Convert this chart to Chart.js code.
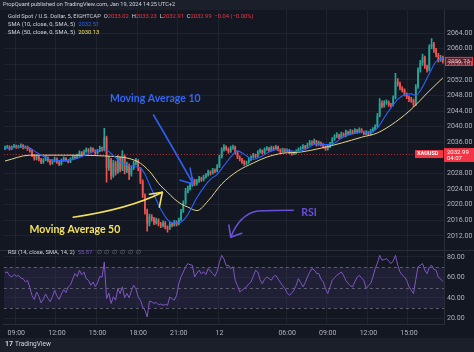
<!DOCTYPE html>
<html>
<head>
<meta charset="utf-8">
<script src="https://cdn.jsdelivr.net/npm/chart.js@4.4.1/dist/chart.umd.min.js"></script>
<style>
  html, body { margin: 0; padding: 0; background: #131722; }
  #wrap { width: 474px; height: 352px; position: relative; }
</style>
</head>
<body>
<div id="wrap"><canvas id="chart"></canvas></div>
<script>
// XAUUSD, one bar per 10 minutes
var firstOpen = 2034.4;
var closes = [
  2034.6,2034.9,2034.3,2034.8,2035.1,2034.7,2034.9,2035.2,2034.6,2034.8,
  2034.2,2033.9,2032.6,2031.8,2032.4,2031.6,2030.9,2031.5,2032.1,2031.3,
  2030.6,2031.2,2031.8,2030.9,2030.4,2031.3,2031.9,2031.4,2031.0,2031.7,
  2032.3,2032.0,2032.6,2033.4,2033.0,2033.6,2034.2,2033.7,2034.4,2033.9,
  2033.2,2033.8,2034.5,2034.0,2037.2,2029.5,2031.6,2027.4,2030.8,2028.3,
  2031.9,2029.0,2032.5,2028.6,2030.2,2027.8,2029.4,2030.6,2031.3,2029.2,
  2026.0,2022.4,2018.5,2015.2,2017.0,2016.4,2015.3,2016.1,2015.0,2014.6,
  2015.4,2014.2,2013.9,2015.1,2014.8,2015.6,2015.0,2016.2,2018.3,2020.4,
  2023.5,2024.1,2025.0,2026.3,2025.4,2026.0,2026.8,2026.4,2027.1,2027.6,
  2028.4,2028.0,2028.9,2028.6,2029.8,2032.2,2034.0,2034.9,2034.3,2033.6,
  2034.6,2034.8,2033.4,2032.2,2031.6,2031.0,2030.5,2030.8,2031.5,2032.1,
  2032.8,2032.4,2033.5,2033.9,2033.3,2034.2,2034.5,2033.9,2034.6,2034.3,
  2034.8,2034.1,2033.6,2034.2,2033.8,2034.0,2033.4,2033.0,2033.2,2033.8,
  2034.3,2034.5,2035.0,2034.6,2035.4,2035.9,2035.8,2036.3,2035.4,2035.9,
  2035.5,2034.9,2034.3,2034.8,2035.6,2036.7,2037.5,2037.8,2037.2,2038.1,
  2037.6,2038.6,2038.1,2038.8,2038.4,2039.0,2038.6,2039.3,2038.7,2038.2,
  2038.6,2038.0,2038.9,2039.4,2040.0,2042.8,2046.0,2045.3,2046.1,2046.3,
  2045.6,2045.5,2047.4,2051.6,2051.0,2049.9,2049.4,2048.3,2047.6,2047.0,
  2046.8,2045.6,2050.2,2054.5,2056.3,2057.8,2055.4,2054.5,2060.4,2061.2,
  2059.6,2058.4,2057.0,2057.8,2056.7
];
var highs = [
  2035.0,2035.2,2035.1,2035.0,2035.5,2035.3,2035.2,2035.6,2035.4,2035.1,
  2035.0,2034.5,2034.1,2032.9,2032.8,2032.6,2031.9,2031.8,2032.5,2032.3,
  2031.5,2031.6,2032.2,2032.0,2031.1,2031.7,2032.3,2032.1,2031.6,2032.0,
  2032.7,2032.6,2033.0,2033.8,2033.6,2034.0,2034.6,2034.4,2034.8,2034.6,
  2034.1,2034.2,2035.0,2034.8,2039.6,2037.6,2032.4,2031.9,2031.4,2031.2,
  2032.6,2032.2,2033.9,2032.8,2030.9,2030.5,2029.9,2031.2,2031.9,2031.6,
  2029.5,2026.4,2022.8,2018.9,2017.6,2017.5,2016.8,2016.6,2016.4,2015.5,
  2015.9,2015.7,2014.6,2015.5,2015.4,2016.0,2015.9,2016.6,2018.8,2021.0,
  2024.2,2024.8,2025.6,2027.0,2026.6,2026.5,2027.3,2027.1,2027.6,2028.0,
  2028.9,2028.7,2029.3,2029.2,2030.3,2032.7,2034.6,2035.4,2035.1,2034.6,
  2035.0,2035.3,2035.0,2033.7,2032.5,2031.9,2031.3,2031.2,2031.9,2032.5,
  2033.2,2033.0,2033.9,2034.3,2034.1,2034.6,2034.9,2034.7,2035.0,2034.9,
  2035.2,2035.0,2034.3,2034.5,2034.4,2034.3,2034.2,2033.6,2033.5,2034.1,
  2034.6,2034.9,2035.4,2035.2,2035.8,2036.5,2036.4,2036.8,2036.5,2036.3,
  2036.1,2035.7,2035.1,2035.2,2036.0,2037.2,2038.0,2038.5,2038.1,2038.6,
  2038.4,2039.1,2038.9,2039.3,2039.1,2039.5,2039.3,2039.7,2039.5,2038.9,
  2039.0,2038.8,2039.3,2039.8,2040.5,2043.4,2047.2,2046.6,2046.7,2046.9,
  2046.6,2046.0,2047.9,2053.7,2052.3,2051.4,2050.3,2049.7,2048.7,2047.9,
  2047.5,2047.1,2050.8,2055.1,2057.0,2058.6,2058.1,2055.8,2061.0,2062.6,
  2061.6,2060.1,2058.8,2058.3,2058.1
];
var lows = [
  2034.1,2034.4,2034.0,2034.1,2034.6,2034.4,2034.5,2034.7,2034.3,2034.4,
  2033.9,2033.5,2032.3,2031.4,2031.5,2031.2,2030.5,2030.6,2031.3,2031.0,
  2030.2,2030.4,2031.0,2030.6,2030.0,2030.2,2031.1,2031.1,2030.7,2030.8,
  2031.5,2031.7,2031.8,2032.4,2032.7,2032.8,2033.4,2033.4,2033.5,2033.6,
  2032.9,2033.0,2033.6,2033.7,2033.8,2025.8,2028.8,2026.5,2027.0,2027.6,
  2028.0,2028.4,2028.7,2027.9,2028.2,2026.4,2027.3,2029.0,2030.2,2028.7,
  2025.4,2021.8,2017.6,2013.2,2014.6,2015.8,2014.9,2015.0,2014.6,2014.1,
  2014.3,2013.8,2013.0,2013.6,2014.3,2014.5,2014.6,2014.8,2015.9,2018.0,
  2020.1,2023.0,2023.7,2024.7,2024.9,2025.0,2025.7,2026.0,2026.1,2026.8,
  2027.3,2027.6,2027.8,2028.2,2028.4,2029.5,2031.9,2033.7,2033.9,2033.2,
  2033.4,2034.2,2033.0,2031.8,2031.2,2030.6,2030.1,2030.2,2030.6,2031.3,
  2031.9,2032.0,2032.2,2033.2,2033.0,2033.1,2033.9,2033.6,2033.7,2034.0,
  2034.1,2033.8,2033.3,2033.4,2033.5,2033.6,2033.1,2032.7,2032.8,2033.0,
  2033.6,2034.0,2034.3,2034.3,2034.4,2035.2,2035.4,2035.6,2035.0,2035.2,
  2035.1,2034.5,2033.9,2034.0,2034.6,2035.4,2036.5,2037.2,2036.9,2037.0,
  2037.3,2037.4,2037.8,2037.9,2038.1,2038.2,2038.3,2038.4,2038.4,2037.9,
  2037.9,2037.7,2037.8,2038.6,2039.2,2039.8,2042.5,2044.8,2045.0,2045.7,
  2045.2,2045.0,2045.3,2047.1,2050.4,2049.4,2048.9,2047.9,2047.2,2046.4,
  2046.2,2045.1,2045.4,2049.8,2054.0,2055.7,2054.9,2054.0,2054.3,2060.0,
  2059.0,2057.9,2056.5,2056.7,2056.3
];
var rsi = [
  64.5,65.4,61.8,60.5,63.0,61.2,62.1,59.4,58.9,55.7,
  57.2,50.1,42.3,38.4,45.8,41.6,35.2,38.9,43.8,39.6,
  36.4,41.2,47.5,42.1,38.6,43.9,48.2,45.1,50.8,52.6,
  58.4,63.8,61.0,67.0,62.6,65.2,58.6,57.3,52.4,55.6,
  51.2,54.8,61.0,60.3,75.1,39.4,44.7,34.6,41.2,37.8,
  49.2,44.3,50.8,40.4,44.3,40.2,47.0,52.4,48.8,41.0,
  37.8,31.2,28.1,21.5,36.9,36.2,34.8,35.6,33.4,34.1,
  32.9,33.6,32.9,41.0,39.2,37.8,42.5,54.0,60.7,65.4,
  70.2,73.5,72.4,72.0,60.5,64.2,67.0,63.6,65.4,62.8,
  68.6,66.3,63.8,61.2,66.0,74.8,81.6,78.0,71.5,72.0,
  68.6,70.4,57.3,52.0,46.0,47.5,49.2,50.8,53.6,55.7,
  61.0,67.0,65.4,58.0,54.0,58.3,60.5,59.0,57.3,61.0,
  62.1,58.4,55.2,52.0,49.2,45.0,42.7,44.5,47.5,52.3,
  58.9,55.0,50.8,54.8,60.5,65.2,68.6,67.4,64.0,63.8,
  58.4,55.7,49.0,44.3,50.6,57.3,59.8,62.1,63.6,65.4,
  62.0,57.3,54.2,52.0,50.8,55.8,60.2,62.1,59.6,57.3,
  49.2,52.0,54.0,60.4,68.6,74.0,81.6,76.8,77.5,78.4,
  76.0,73.5,76.0,81.6,72.0,65.4,62.4,60.5,57.0,50.8,
  47.5,44.3,58.0,70.3,72.0,73.5,67.0,63.8,70.0,71.9,
  68.0,67.0,60.0,58.6,55.9
];
// moving averages, read at sample bars
var ma10Idx = [0,5,10,14,20,26,32,38,44,48,52,57,60,62,64,66,68,70,72,74,77,79,81,83,85,88,91,94,97,100,
  103,106,110,114,118,122,126,130,134,138,142,146,150,154,158,162,165,168,171,174,177,180,182,185,188,191,194];
var ma10Val = [2034.4,2034.7,2034.7,2033.4,2031.6,2031.3,2031.9,2033.3,2034.3,2032.6,2030.6,2029.8,2029.4,2027.8,2025.2,
  2022.6,2020.0,2017.9,2016.2,2015.4,2015.3,2016.0,2017.5,2019.6,2021.8,2024.4,2026.5,2027.8,2030.0,2032.2,
  2033.8,2032.9,2031.6,2032.5,2033.8,2034.2,2033.9,2033.6,2034.5,2035.6,2035.4,2035.8,2037.5,2038.2,2038.7,
  2038.6,2039.6,2042.3,2044.8,2047.0,2048.2,2048.4,2048.0,2050.2,2053.6,2056.7,2057.6];
var ma50Idx = [0,11,26,44,57,61,65,68,72,75,78,81,85,90,96,103,110,116,123,131,140,149,158,165,173,181,187,194];
var ma50Val = [2031.2,2032.7,2032.7,2032.5,2031.5,2030.2,2027.9,2025.5,2023.2,2021.5,2020.2,2019.4,2018.5,2021.0,
  2025.3,2028.6,2030.7,2032.2,2033.2,2033.5,2034.5,2035.8,2037.3,2038.4,2041.2,2045.0,2048.6,2052.5];

var tickIdx = [5,23,41,59,77,95,125,143,161,179];
var tickText = ['09:00','12:00','15:00','18:00','21:00','12','06:00','09:00','12:00','15:00'];
var priceTicks = [2012,2016,2020,2024,2028,2036,2040,2044,2048,2052,2056,2060,2064];
var rsiTicks = [20,40,60,80];
var lastPrice = 2032.99, markPrice = 2056.73;

var n = closes.length;
var labels = closes.map(function (c, i) { return String(i); });
var opens = closes.map(function (c, i) { return i === 0 ? firstOpen : closes[i - 1]; });
var candleColors = closes.map(function (c, i) { return c >= opens[i] ? '#26a69a' : '#ef5350'; });
var bodies = closes.map(function (c, i) { return [opens[i], c]; });
var wicks = closes.map(function (c, i) { return [lows[i], highs[i]]; });
function sparse(idx, val) {
  var a = new Array(n).fill(null);
  idx.forEach(function (k, j) { a[k] = val[j]; });
  return a;
}

var tickFont = { family: 'Roboto, sans-serif', size: 7 };
var gridColor = 'rgba(54,58,69,0.35)';

function textRun(c, parts, x, y) {
  parts.forEach(function (p) {
    c.fillStyle = p[1];
    c.fillText(p[0], x, y);
    x += c.measureText(p[0]).width;
  });
  return x;
}

var decor = {
  id: 'decor',
  beforeDraw: function (chart) {
    var c = chart.ctx, ca = chart.chartArea, r = chart.scales.rsi;
    c.save();
    c.fillStyle = '#131722';
    c.fillRect(0, 0, chart.width, chart.height);
    c.fillStyle = '#1b1f2a';
    c.fillRect(0, 0, chart.width, 10);
    c.fillRect(0, 338, chart.width, 14);
    var y70 = r.getPixelForValue(70), y30 = r.getPixelForValue(30);
    c.fillStyle = 'rgba(126,87,194,0.12)';
    c.fillRect(ca.left, y70, ca.right - ca.left, y30 - y70);
    c.restore();
  },
  beforeDatasetsDraw: function (chart) {
    var c = chart.ctx, ca = chart.chartArea, r = chart.scales.rsi, y = chart.scales.y;
    c.save();
    c.strokeStyle = 'rgba(120,123,134,0.7)';
    c.lineWidth = 1;
    c.setLineDash([3, 3]);
    [70, 50, 30].forEach(function (v) {
      var py = Math.round(r.getPixelForValue(v)) + 0.5;
      c.beginPath(); c.moveTo(ca.left, py); c.lineTo(ca.right, py); c.stroke();
    });
    c.strokeStyle = 'rgba(242,54,69,0.75)';
    c.setLineDash([1, 2]);
    var ly = Math.round(y.getPixelForValue(lastPrice)) + 0.5;
    c.beginPath(); c.moveTo(ca.left, ly); c.lineTo(ca.right, ly); c.stroke();
    c.restore();
  },
  afterDatasetsDraw: function (chart) {
    var c = chart.ctx, xs = chart.scales.x, ys = chart.scales.y;
    function P(i, p) { return [xs.getPixelForValue(i), ys.getPixelForValue(p)]; }
    function arrow(color, pts, head) {
      c.strokeStyle = color; c.lineWidth = 1.6; c.lineCap = 'round'; c.lineJoin = 'round';
      c.beginPath();
      var s = P(pts[0][0], pts[0][1]);
      c.moveTo(s[0], s[1]);
      for (var k = 1; k < pts.length; k += 2) {
        var q = P(pts[k][0], pts[k][1]), e = P(pts[k + 1][0], pts[k + 1][1]);
        c.quadraticCurveTo(q[0], q[1], e[0], e[1]);
      }
      c.stroke();
      var t = P(head[0][0], head[0][1]);
      c.beginPath();
      var h1 = P(head[1][0], head[1][1]), h2 = P(head[2][0], head[2][1]);
      c.moveTo(h1[0], h1[1]); c.lineTo(t[0], t[1]); c.lineTo(h2[0], h2[1]);
      c.stroke();
    }
    c.save();
    c.font = 'bold 10.5px Lato, sans-serif';
    c.textBaseline = 'middle';
    var t1 = P(46.5, 2047.1); c.fillStyle = '#3466f2'; c.fillText('Moving Average 10', t1[0], t1[1]);
    var t2 = P(10.9, 2013.7); c.fillStyle = '#f4e25c'; c.fillText('Moving Average 50', t2[0], t2[1]);
    var t3 = P(131.2, 2018.1); c.fillStyle = '#6750d6'; c.fillText('RSI', t3[0], t3[1]);
    arrow('#2f5ff0', [[65.8, 2043.0], [73.5, 2035.5], [83.4, 2025.3]],
      [[83.4, 2025.3], [77.6, 2026.3], [82.0, 2029.4]]);
    arrow('#f4e25c', [[30.2, 2016.8], [55, 2018.9], [69.7, 2023.2]],
      [[69.7, 2023.2], [64.0, 2022.7], [68.4, 2019.4]]);
    arrow('#6750d6', [[127.7, 2018.6], [118, 2018.6], [112, 2018.4], [104, 2017.6], [100, 2011.7]],
      [[100, 2011.7], [99.2, 2014.8], [104.9, 2012.7]]);
    c.restore();
  },
  afterDraw: function (chart) {
    var c = chart.ctx, ca = chart.chartArea, ys = chart.scales.y, r = chart.scales.rsi;
    c.save();
    c.strokeStyle = '#2a2e39'; c.lineWidth = 1;
    var sy = Math.round(r.top) + 0.5;
    c.beginPath(); c.moveTo(0, sy); c.lineTo(chart.width, sy); c.stroke();

    // RSI axis labels, placed through the rsi scale
    c.textBaseline = 'middle';
    c.font = '7px Roboto, sans-serif';
    c.fillStyle = '#b2b5be';
    rsiTicks.forEach(function (v) { c.fillText(v.toFixed(2), r.left + 3, r.getPixelForValue(v)); });

    // price labels on the axis
    var ly = ys.getPixelForValue(lastPrice);
    c.fillStyle = '#f23645';
    c.fillRect(ca.right - 29, ly - 4, 28, 8);
    c.fillRect(ca.right, ly - 6, 30, 14);
    c.fillStyle = '#ffffff';
    c.font = 'bold 5.5px Roboto, sans-serif';
    c.fillText('XAUUSD', ca.right - 27, ly);
    c.font = '6px Roboto, sans-serif';
    c.fillText(lastPrice.toFixed(2), ca.right + 3, ly - 2);
    c.fillText('04:07', ca.right + 3, ly + 4.5);
    var my = ys.getPixelForValue(markPrice);
    c.fillStyle = 'rgba(242,54,69,0.3)';
    c.fillRect(ca.right + 1.5, my - 4, 27, 8);
    c.strokeStyle = '#f23645';
    c.strokeRect(ca.right + 1.5, my - 4, 27, 8);
    c.fillStyle = '#f5b8bd';
    c.fillText(markPrice.toFixed(2), ca.right + 4, my);

    // header and legends
    c.font = '5.6px Roboto, sans-serif';
    c.fillStyle = '#d1d4dc';
    c.fillText('PropQuant published on TradingView.com, Jan 19, 2024 14:25 UTC+2', 3, 5);
    var red = '#f23645', txt = '#d1d4dc';
    c.font = '5.8px Roboto, sans-serif';
    textRun(c, [['Gold Spot / U.S. Dollar, 5, EIGHTCAP  ', txt], ['O', txt], ['2033.02', red], ['  H', txt], ['2033.23', red],
      ['  L', txt], ['2032.91', red], ['  C', txt], ['2032.99', red], ['  \u22120.04 (\u22120.00%)', red]], 8, 17);
    textRun(c, [['SMA (10, close, 0, SMA, 5)  ', txt], ['2032.51', '#2962ff']], 8, 25);
    textRun(c, [['SMA (50, close, 0, SMA, 5)  ', txt], ['2030.13', '#f4e25c']], 8, 33);
    textRun(c, [['RSI (14, close, SMA, 14, 2)  ', txt], ['55.87', '#7e57c2'], ['   \u2205  \u2205  \u2205  \u2205  \u2205  \u2205', '#787b86']], 8, r.top + 3);

    // footer logo
    c.font = 'bold 7px Roboto, sans-serif';
    c.fillStyle = '#d1d4dc';
    c.fillText('17', 5, 344);
    c.font = '6.5px Roboto, sans-serif';
    c.fillText('TradingView', 15, 344);
    c.restore();
  }
};

new Chart(document.getElementById('chart'), {
  type: 'bar',
  data: {
    labels: labels,
    datasets: [
      { type: 'line', data: rsi, yAxisID: 'rsi', borderColor: '#7e57c2', borderWidth: 1, pointRadius: 0, tension: 0 },
      { type: 'line', data: sparse(ma10Idx, ma10Val), yAxisID: 'y', borderColor: '#2962ff', borderWidth: 1.1,
        pointRadius: 0, spanGaps: true, cubicInterpolationMode: 'monotone' },
      { type: 'line', data: sparse(ma50Idx, ma50Val), yAxisID: 'y', borderColor: '#e3d38f', borderWidth: 1,
        pointRadius: 0, spanGaps: true, cubicInterpolationMode: 'monotone' },
      { data: bodies, yAxisID: 'y', backgroundColor: candleColors, grouped: false,
        barPercentage: 0.72, categoryPercentage: 1 },
      { data: wicks, yAxisID: 'y', backgroundColor: candleColors, grouped: false, barThickness: 1 }
    ]
  },
  options: {
    responsive: true,
    maintainAspectRatio: false,
    animation: false,
    events: [],
    layout: { padding: { top: 10, left: 0, right: 0, bottom: 0 } },
    plugins: { legend: { display: false }, tooltip: { enabled: false } },
    scales: {
      x: {
        type: 'category',
        offset: true,
        grid: {
          color: function (ctx) { return tickIdx.indexOf(ctx.index) >= 0 ? gridColor : 'transparent'; },
          drawTicks: false
        },
        border: { color: '#2a2e39' },
        ticks: {
          autoSkip: false, maxRotation: 0, color: '#b2b5be', font: tickFont, padding: 5,
          callback: function (v, i) { var k = tickIdx.indexOf(i); return k >= 0 ? tickText[k] : ''; }
        },
        afterFit: function (s) { s.height = 28; }
      },
      y: {
        position: 'right', stack: 'panes', stackWeight: 240,
        min: 2008.4, max: 2069.9,
        grid: { color: gridColor, drawTicks: false },
        border: { color: '#2a2e39' },
        ticks: { autoSkip: false, color: '#b2b5be', font: tickFont, padding: 3,
          callback: function (v) { return v.toFixed(2); } },
        afterBuildTicks: function (s) { s.ticks = priceTicks.map(function (v) { return { value: v }; }); },
        afterFit: function (s) { s.width = 30; }
      },
      rsi: {
        position: 'right', stack: 'panes', stackWeight: 74,
        min: 14.6, max: 86.8,
        grid: { color: gridColor, drawTicks: false },
        border: { color: '#2a2e39' },
        ticks: { display: false },
        afterBuildTicks: function (s) { s.ticks = rsiTicks.map(function (v) { return { value: v }; }); },
        afterFit: function (s) { s.width = 30; }
      }
    }
  },
  plugins: [decor]
});
</script>
</body>
</html>
